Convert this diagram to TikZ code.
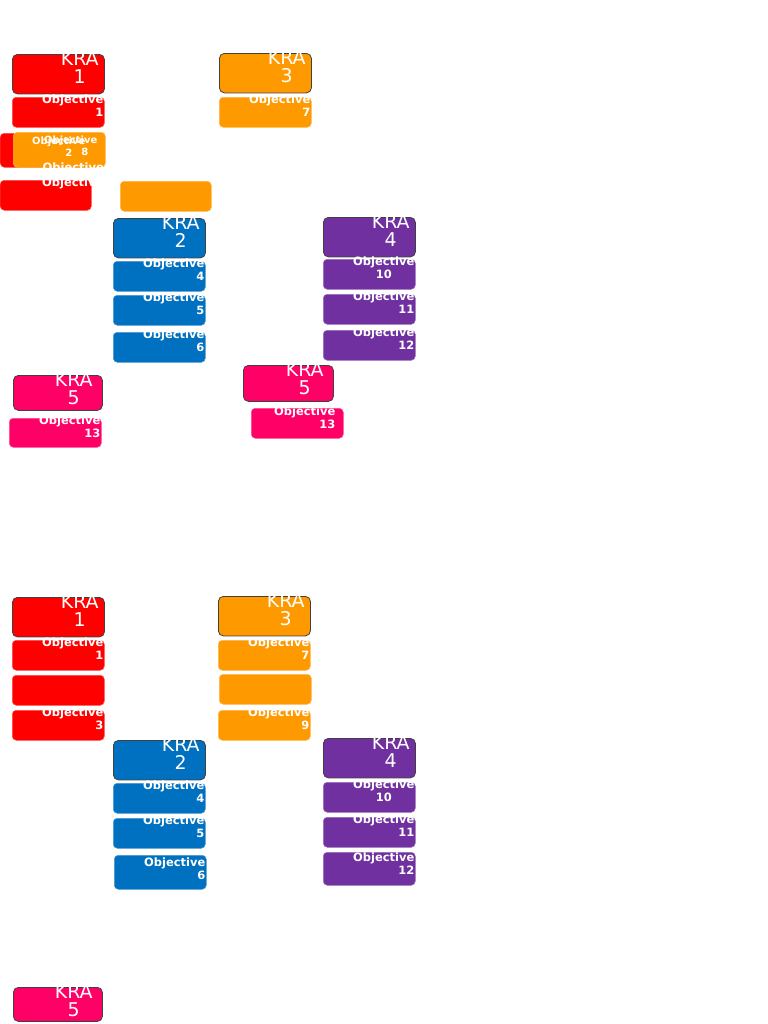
\documentclass[tikz,border=0pt]{standalone}
\usepackage{fontspec}
\setmainfont{DejaVu Sans}
\usetikzlibrary{positioning}
\definecolor{kred}{HTML}{FF0000}
\definecolor{korange}{HTML}{FF9900}
\definecolor{kblue}{HTML}{0070C0}
\definecolor{kpurple}{HTML}{7030A0}
\definecolor{kpink}{HTML}{FF0066}
\tikzstyle{kra} = [rectangle, rounded corners=5bp, draw=black!75, line width=0.8bp, minimum width=92bp, minimum height=39.5bp, anchor=north west, inner sep=0pt]
\tikzstyle{obj} = [rectangle, rounded corners=4bp, line width=0.5bp, minimum width=92bp, minimum height=30bp, anchor=north west, inner sep=0pt]
\tikzstyle{kratext} = [anchor=north east, inner sep=0pt, align=center, text=white, font=\fontsize{19}{18.5}\selectfont]
\tikzstyle{objtext} = [anchor=north east, inner sep=0pt, align=right, text=white, font=\fontsize{11.5}{13}\selectfont\bfseries]
\tikzstyle{smalltext} = [objtext, font=\fontsize{10}{12}\selectfont\bfseries]

\begin{document}
\begin{tikzpicture}[x=1bp, y=-1bp]
  \useasboundingbox (0,0) rectangle (768,1024);

  % key result areas
  \foreach \n/\x/\y/\c/\k in {kra1/12/54/kred/1, kra3/219/53/korange/3, kra2/113/218/kblue/2, kra4/323/217/kpurple/4,
      kra1b/12/597/kred/1, kra3b/218/596/korange/3, kra2b/113/740/kblue/2, kra4b/323/738/kpurple/4}{
    \node[kra, fill=\c] (\n) at (\x,\y) {};
    \node[kratext] (\n-t) at ([xshift=-6bp,yshift=3bp]\n.north east) {KRA\\\k};
  }
  \foreach \n/\x/\y/\h/\w in {kra5/13/375/35/89, kra5r/243/365/36/90, kra5b/13/987/34/89}{
    \node[kra, fill=kpink, minimum width=\w bp, minimum height=\h bp] (\n) at (\x,\y) {};
    \node[kratext] (\n-t) at ([xshift=-10bp,yshift=3bp]\n.north east) {KRA\\5};
  }

  % objectives
  \foreach \n/\x/\y/\c/\k in {o1/12/97/kred/1, o7/219/97/korange/7, o4/113/261/kblue/4, o5/113/295/kblue/5,
      o6/113/332/kblue/6, o11/323/294/kpurple/11, o12/323/330/kpurple/12,
      o1b/12/640/kred/1, o3b/12/710/kred/3, o7b/218/640/korange/7, o9b/218/710/korange/9,
      o4b/113/783/kblue/4, o5b/113/818/kblue/5, o11b/323/817/kpurple/11}{
    \node[obj, fill=\c, draw=\c!70!white] (\n) at (\x,\y) {};
    \node[objtext] (\n-t) at ([xshift=-1bp,yshift=2bp]\n.north east) {Objective\\\k};
  }
  \foreach \n/\y in {o10/259, o10b/782}{
    \node[obj, fill=kpurple, draw=kpurple!70!white] (\n) at (323,\y) {};
    \node[objtext, align=center] (\n-t) at ([xshift=-1bp,yshift=2bp]\n.north east) {Objective\\10};
  }
  \node[obj, fill=kblue, draw=kblue!70!white, minimum height=34bp] (o6b) at (114,855) {};
  \node[objtext] (o6b-t) at ([xshift=-1bp,yshift=-3bp]o6b.north east) {Objective\\6};
  \node[obj, fill=kpurple, draw=kpurple!70!white, minimum height=33bp] (o12b) at (323,852) {};
  \node[objtext] (o12b-t) at ([xshift=-1bp,yshift=-1bp]o12b.north east) {Objective\\12};

  \node[obj, fill=kpink, draw=kpink!70!white, minimum height=29bp] (o13) at (9,418) {};
  \node[objtext] (o13-t) at ([xshift=-1bp,yshift=2bp]o13.north east) {Objective\\13};
  \node[obj, fill=kpink, draw=kpink!70!white] (o13r) at (251,408) {};
  \node[objtext] (o13r-t) at ([xshift=-8bp,yshift=1bp]o13r.north east) {Objective\\13};

  % empty boxes
  \node[obj, fill=korange, draw=korange!70!white, minimum width=91bp] (o9) at (120,181) {};
  \node[obj, fill=kred, draw=kred!70!white] (o2b) at (12,675) {};
  \node[obj, fill=korange, draw=korange!70!white] (o8b) at (219,674) {};

  % overlapping ones
  \node[obj, fill=kred, draw=kred!70!white, minimum height=34bp] (o2) at (0,133) {};
  \node[obj, fill=korange, draw=korange!70!white, minimum height=35bp] (o8) at (13,132) {};
  \node[smalltext] (o2-t) at ([xshift=-7bp,yshift=-3.4bp]o2.north east) {Objective\\2\hspace*{13bp}};
  \node[smalltext] (o8-t) at ([xshift=-8bp,yshift=-3.4bp]o8.north east) {Objective\\8\hspace*{9bp}};
  \node[objtext, anchor=base east] (o2x) at (104,171.5) {Objective};
  \node[obj, fill=kred, draw=kred!70!white, minimum width=91bp] (o3) at (0,180) {};
  \node[objtext] (o3-t) at ([xshift=12bp,yshift=2.5bp]o3.north east) {Objective\\3};
\end{tikzpicture}
\end{document}
